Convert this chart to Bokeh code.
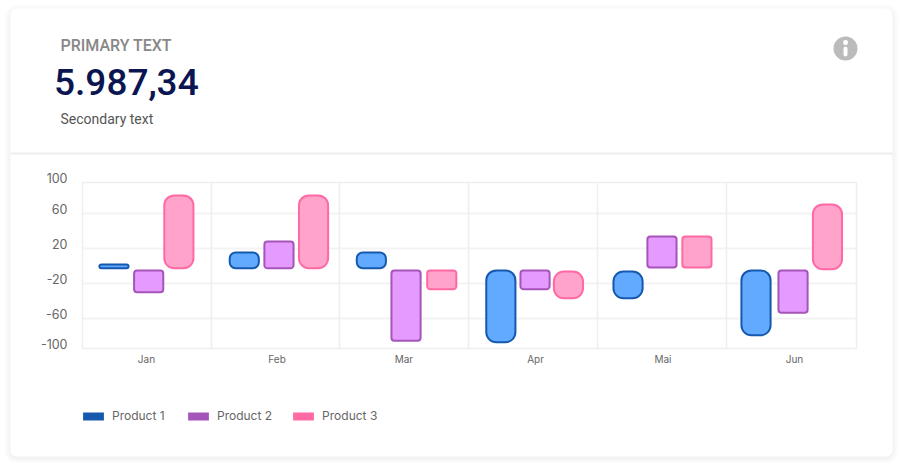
from bokeh.embed import file_html
from bokeh.resources import INLINE
from bokeh.plotting import figure
from bokeh.models import (BoxAnnotation, ColumnDataSource, FixedTicker, Grid, Label,
                          Legend, LegendItem, LinearAxis, Range1d)

# ---- data ----
months = ["Jan", "Feb", "Mar", "Apr", "Mai", "Jun"]
series_names = ["Product 1", "Product 2", "Product 3"]
y_tick_labels = ["100", "60", "20", "-20", "-60", "-100"]

product1_top = [1.8, 15.5, 15.5, -5.0, -6.2, -5.0]
product1_bottom = [-2.6, -2.6, -2.6, -87.2, -36.9, -79.2]
product2_top = [-5.0, 28.1, -5.0, -5.0, 33.8, -5.0]
product2_bottom = [-30.1, -2.6, -85.3, -26.6, -1.8, -53.3]
product3_top = [80.7, 80.7, -5.0, -6.2, 33.8, 70.4]
product3_bottom = [-2.6, -2.6, -26.6, -36.9, -1.8, -3.8]

# ---- layout & style (not data) ----
W, H = 902, 468
PX_X, PX_Y = 129.0, 0.875      # pixels per x unit / y unit
ORIGIN_X, ORIGIN_Y = 82.0, 265.5  # page position of x=0, y=0
Y_MIN, Y_MAX = -94.29, 95.43
y_ticks = [Y_MAX, 60, 20, -20, -60, Y_MIN]
x_label_pos = [0.496, 1.508, 2.491, 3.512, 4.5, 5.519]
x_grid_pos = [0.0, 1.0, 1.99, 2.99, 3.99, 4.99, 6.0]
BAR_W = 0.226
slots = [
    [0.244, 1.254, 2.239, 3.243, 4.229, 5.221],
    [0.513, 1.523, 2.508, 3.508, 4.492, 5.508],
    [0.747, 1.791, 2.785, 3.767, 4.763, 5.775],
]
radii = [
    [2, 6, 6, 10, 10, 10],
    [3, 3, 3, 3, 3, 3],
    [10, 10, 3, 10, 3, 10],
]
fills = ["#62AAFF", "#E59AFF", "#FFA3CB"]
strokes = ["#1459AE", "#A554BA", "#FF69A4"]
tops = [product1_top, product2_top, product3_top]
bottoms = [product1_bottom, product2_bottom, product3_bottom]

p = figure(width=W, height=H, output_backend="svg", toolbar_location=None,
           x_axis_location=None, y_axis_location=None,
           x_range=Range1d(-ORIGIN_X / PX_X, (W - ORIGIN_X) / PX_X),
           y_range=Range1d((ORIGIN_Y - H) / PX_Y, ORIGIN_Y / PX_Y),
           min_border=0, background_fill_color="white", border_fill_color="white",
           outline_line_alpha=0)
p.center = []  # no default grids
LABEL_LIFT = 4.4
p.extra_y_ranges["labels"] = Range1d((ORIGIN_Y - LABEL_LIFT - H) / PX_Y, (ORIGIN_Y - LABEL_LIFT) / PX_Y)


def box(l, r, t, b, **kw):
    """Box given in page pixels."""
    b_ = BoxAnnotation(left=l, right=r, top=t, bottom=b,
                       left_units="canvas", right_units="canvas",
                       top_units="canvas", bottom_units="canvas",
                       editable=False, **kw)
    p.add_layout(b_)
    return b_


# card shadow and body
for grow, alpha in [(6, 0.006), (5, 0.006), (4, 0.007), (3, 0.008), (2, 0.009), (1, 0.012)]:
    box(10 - grow, 892 + grow, 8 - grow + 2, 456 + grow + 1, fill_color="black", fill_alpha=alpha,
        line_alpha=0, border_radius=6 + grow, level="underlay")
box(10, 892, 8, 456, fill_color="white", fill_alpha=1, line_alpha=0, border_radius=6, level="underlay")
box(10, 892, 152, 154, fill_color="#EEEEEE", fill_alpha=1, line_alpha=0, level="underlay")

# info icon
box(833, 857, 36, 60, fill_color="#BBBBBB", fill_alpha=1, line_alpha=0, border_radius=12)
box(842.6, 847.4, 39.6, 44.4, fill_color="white", fill_alpha=1, line_alpha=0, border_radius=2)
box(843, 847, 46, 56, fill_color="white", fill_alpha=1, line_alpha=0, border_radius=2)

# grids (limited to the plot area)
p.add_layout(Grid(dimension=1, ticker=FixedTicker(ticks=[60, 20, -20, -60]), cross_bounds=(0, 6),
                  grid_line_color="#F3F3F3", grid_line_width=2))
p.add_layout(Grid(dimension=1, ticker=FixedTicker(ticks=[Y_MAX, Y_MIN]), cross_bounds=(0, 6),
                  grid_line_color="#EEEEEE", grid_line_width=1.5))
p.add_layout(Grid(dimension=0, ticker=FixedTicker(ticks=x_grid_pos), cross_bounds=(Y_MIN, Y_MAX),
                  grid_line_color="#EEEEEE", grid_line_width=1.5))

# bars, grouped by corner radius
for i in range(3):
    for r in sorted(set(radii[i])):
        idx = [k for k, v in enumerate(radii[i]) if v == r]
        src = ColumnDataSource(dict(
            x=[slots[i][k] for k in idx],
            top=[tops[i][k] for k in idx],
            bottom=[bottoms[i][k] for k in idx],
        ))
        p.vbar(x="x", width=BAR_W, top="top", bottom="bottom", source=src,
               fill_color=fills[i], line_color=strokes[i], line_width=2,
               border_radius=r)

# legend keys: solid swatches
items = []
for name, c in zip(series_names, strokes):
    rk = p.quad(left=[float("nan")], right=[float("nan")], top=[float("nan")], bottom=[float("nan")],
                fill_color=c, line_color=c, line_width=0)
    items.append(LegendItem(label=name, renderers=[rk]))
legend = Legend(items=items, orientation="horizontal", location=(80, 45),
                glyph_width=26, glyph_height=10, label_standoff=6, spacing=18, label_width=55,
                padding=0, margin=0, border_line_alpha=0, background_fill_alpha=0,
                label_text_font="Inter", label_text_font_size="12px",
                label_text_color="#666666")
p.add_layout(legend, "center")

# axes
xa = LinearAxis(fixed_location=Y_MIN, ticker=FixedTicker(ticks=x_label_pos),
                major_label_overrides=dict(zip(x_label_pos, months)),
                major_label_text_font="Inter", major_label_text_font_size="10px",
                major_label_text_color="#666666", major_label_standoff=4,
                major_tick_out=0, major_tick_in=0, minor_tick_out=0, minor_tick_in=0,
                axis_line_alpha=0, major_tick_line_alpha=0, minor_tick_line_alpha=0)
p.add_layout(xa, "below")
ya = LinearAxis(fixed_location=0, y_range_name="labels", ticker=FixedTicker(ticks=y_ticks),
                major_label_overrides=dict(zip(y_ticks, y_tick_labels)),
                major_label_text_font="Inter", major_label_text_font_size="12.5px",
                major_label_text_color="#666666", major_label_standoff=15,
                major_tick_out=0, major_tick_in=0, minor_tick_out=0, minor_tick_in=0,
                axis_line_alpha=0, major_tick_line_alpha=0, minor_tick_line_alpha=0)
p.add_layout(ya, "left")


def text(txt, x, y, font, size, color, style="normal"):
    p.add_layout(Label(x=x, y=y, x_units="canvas", y_units="canvas", text=txt,
                       text_font=font, text_font_size=size, text_color=color,
                       text_font_style=style, text_baseline="middle", text_align="left"))


text("PRIMARY TEXT", 60, 45, "Roboto Medium, Roboto", "16px", "#888888")
text("5.987,34", 53.5, 81.5, "Roboto Medium, Roboto", "37px", "#0A1551")
text("Secondary text", 60, 118, "Roboto", "14px", "#555555")

open("out.html", "w").write(file_html(p, INLINE))
